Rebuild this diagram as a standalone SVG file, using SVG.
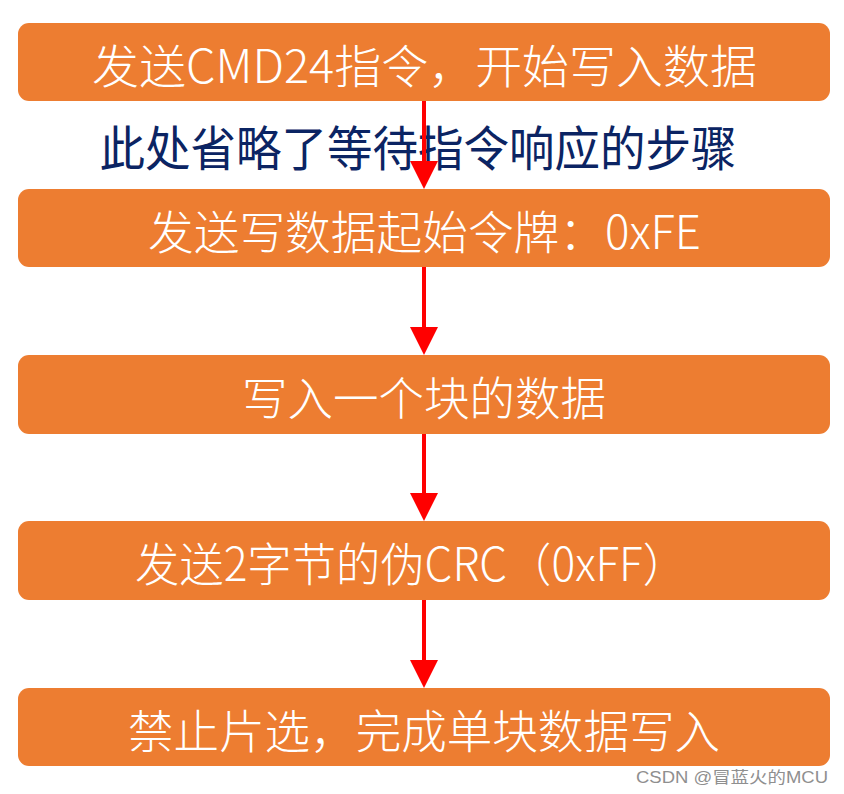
<svg xmlns="http://www.w3.org/2000/svg" width="844" height="794" viewBox="0 0 844 794">
<style>
.box{fill:#ED7D31;}
.bt{fill:#FFFFFF;font-family:"Noto Sans CJK SC","Noto Sans",sans-serif;font-size:46px;font-weight:300;text-anchor:middle;dominant-baseline:central;}
.note{fill:#0B2463;font-family:"Noto Sans CJK SC","Noto Sans",sans-serif;font-size:48px;text-anchor:middle;dominant-baseline:central;}
.ln{stroke:#FF0000;stroke-width:4;fill:none;}
.ah{fill:#FF0000;}
.wm{fill:#8F8F8F;font-family:"Liberation Sans","Noto Sans CJK SC",sans-serif;font-size:16px;}
</style>
<rect width="844" height="794" fill="#FFFFFF"/>
<g id="note">
<text class="note" x="418" y="145" textLength="637" lengthAdjust="spacingAndGlyphs">此处省略了等待指令响应的步骤</text>
</g>
<g id="connectors">
<line class="ln" x1="424" y1="101" x2="424" y2="163"/>
<polygon class="ah" points="410,161 438,161 424,189"/>
<line class="ln" x1="424" y1="267" x2="424" y2="329"/>
<polygon class="ah" points="410,327 438,327 424,355"/>
<line class="ln" x1="424" y1="434" x2="424" y2="495"/>
<polygon class="ah" points="410,493 438,493 424,521"/>
<line class="ln" x1="424" y1="600" x2="424" y2="662"/>
<polygon class="ah" points="410,660 438,660 424,688"/>
</g>
<g id="step1">
<rect class="box" x="18" y="23" width="812" height="78" rx="11"/>
<text class="bt" x="424.5" y="62.5" textLength="665" lengthAdjust="spacingAndGlyphs">发送CMD24指令，开始写入数据</text>
</g>
<g id="step2">
<rect class="box" x="18" y="189" width="812" height="78" rx="11"/>
<text class="bt" x="424.5" y="228.5" textLength="553" lengthAdjust="spacingAndGlyphs">发送写数据起始令牌：0xFE</text>
</g>
<g id="step3">
<rect class="box" x="18" y="355" width="812" height="79" rx="11"/>
<text class="bt" x="424" y="395" textLength="364" lengthAdjust="spacingAndGlyphs">写入一个块的数据</text>
</g>
<g id="step4">
<rect class="box" x="18" y="521" width="812" height="79" rx="11"/>
<text class="bt" x="411" y="561" textLength="552" lengthAdjust="spacingAndGlyphs">发送2字节的伪CRC（0xFF）</text>
</g>
<g id="step5">
<rect class="box" x="18" y="688" width="812" height="78" rx="11"/>
<text class="bt" x="424" y="727.5" textLength="592" lengthAdjust="spacingAndGlyphs">禁止片选，完成单块数据写入</text>
</g>
<text class="wm" x="636" y="783" textLength="192" lengthAdjust="spacingAndGlyphs">CSDN @冒蓝火的MCU</text>
</svg>
